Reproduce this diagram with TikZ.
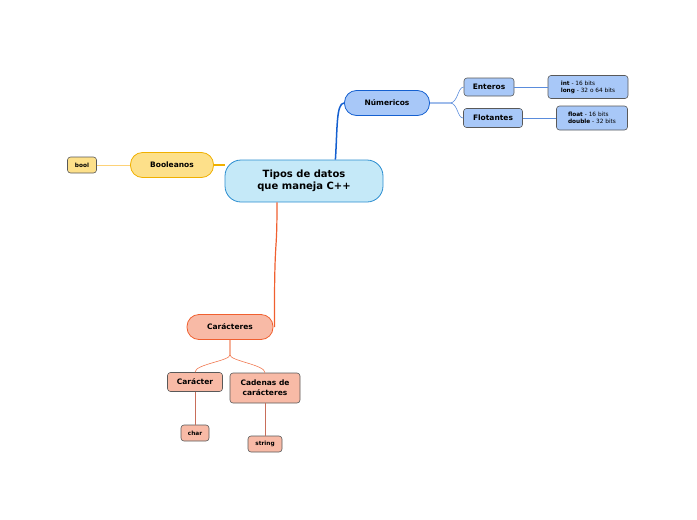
\documentclass[tikz,border=0pt]{standalone}
\usepackage{fontspec}
\setmainfont{DejaVu Sans}
\definecolor{cfill}{RGB}{197,233,248}
\definecolor{cdraw}{RGB}{42,141,208}
\definecolor{bfill}{RGB}{168,200,248}
\definecolor{bdraw}{RGB}{21,96,208}
\definecolor{bline}{RGB}{90,140,220}
\definecolor{yfill}{RGB}{253,224,138}
\definecolor{ydraw}{RGB}{240,176,0}
\definecolor{yline}{RGB}{253,210,120}
\definecolor{rfill}{RGB}{248,186,166}
\definecolor{rdraw}{RGB}{240,96,48}
\definecolor{rline}{RGB}{240,120,80}
\definecolor{rline2}{RGB}{200,110,90}
\begin{document}
\begin{tikzpicture}[x=1pt,y=-1pt,
 base/.style={draw,rounded corners=3pt,font=\bfseries\fontsize{6.5}{8}\selectfont,inner sep=2pt,align=center,line width=0.6pt,draw=black!65},
 blue1/.style={base,fill=bfill},
 red1/.style={base,fill=rfill},
 yel1/.style={base,fill=yfill},
 main/.style={draw,rounded corners=12pt,line width=0.8pt,font=\bfseries\fontsize{7.5}{9}\selectfont,inner sep=2pt,align=center}]
\useasboundingbox (0,0) rectangle (697,520);
\node[main,fill=cfill,draw=cdraw,minimum width=158pt,minimum height=42pt,rounded corners=16pt,font=\bfseries\fontsize{10}{11.5}\selectfont] (c) at (304,181) {Tipos de datos\\que maneja C++};
\node[main,fill=bfill,draw=bdraw,minimum width=85pt,minimum height=25pt] (n) at (387,103) {Númericos};
\node[main,fill=yfill,draw=ydraw,minimum width=83pt,minimum height=25pt] (b) at (172,165) {Booleanos};
\node[main,fill=rfill,draw=rdraw,minimum width=86pt,minimum height=25pt] (k) at (230,327) {Carácteres};
\node[blue1,minimum width=50pt,minimum height=18pt,font=\bfseries\fontsize{7.5}{9}\selectfont] (e) at (489,87) {Enteros};
\node[blue1,minimum width=59pt,minimum height=19pt,font=\bfseries\fontsize{7.5}{9}\selectfont] (f) at (493,118) {Flotantes};
\node[blue1,minimum width=80pt,minimum height=23pt,align=left,font=\fontsize{5.8}{7}\selectfont] (ei) at (588,87) {\textbf{int} - 16 bits\\\textbf{long} - 32 o 64 bits};
\node[blue1,minimum width=71pt,minimum height=24pt,align=left,font=\fontsize{5.8}{7}\selectfont] (fi) at (592,118) {\textbf{float} - 16 bits\\\textbf{double} - 32 bits};
\node[yel1,minimum width=29pt,minimum height=16pt,font=\bfseries\fontsize{5.8}{7}\selectfont] (bo) at (82,165) {bool};
\node[red1,minimum width=55pt,minimum height=19pt,font=\bfseries\fontsize{7.5}{9}\selectfont] (k1) at (195,382) {Carácter};
\node[red1,minimum width=70pt,minimum height=30pt,font=\bfseries\fontsize{7.5}{10}\selectfont] (k2) at (265,388) {Cadenas de\\carácteres};
\node[red1,minimum width=28pt,minimum height=16pt,font=\bfseries\fontsize{5.8}{7}\selectfont] (ch) at (195,433) {char};
\node[red1,minimum width=34pt,minimum height=16pt,font=\bfseries\fontsize{5.8}{7}\selectfont] (st) at (265,444) {string};
% connectors
\draw[bdraw,line width=1.5pt] (c.north east) ++(-48,0) .. controls +(2,-30) and +(-8,0) .. (n.west);
\draw[ydraw,line width=1.5pt] (b.east) -- (c.west |- b.east);
\draw[rdraw,line width=1.2pt] (c.south) ++(-27,0) .. controls +(0,60) and +(0,-100) .. ([xshift=1pt]k.east);
\draw[bline,line width=0.6pt] (n.east) -- ++(20,0) .. controls +(8,0) and +(-6,0) .. (e.west);
\draw[bline,line width=0.6pt] (n.east) -- ++(20,0) .. controls +(8,0) and +(-6,0) .. (f.west);
\draw[bline,line width=0.6pt] (e.east) -- (ei.west);
\draw[bline,line width=0.6pt] (f.east) -- (fi.west);
\draw[yline,line width=0.6pt] (bo.east) -- (b.west);
\draw[rline,line width=0.6pt] (k.south) -- ++(0,15) .. controls +(0,6) and +(0,-8) .. (k1.north);
\draw[rline,line width=0.6pt] (k.south) -- ++(0,15) .. controls +(0,6) and +(0,-8) .. (k2.north);
\draw[rline2,line width=0.6pt] (k1.south) -- (ch.north);
\draw[rline2,line width=0.6pt] (k2.south) -- (st.north);
\end{tikzpicture}
\end{document}
